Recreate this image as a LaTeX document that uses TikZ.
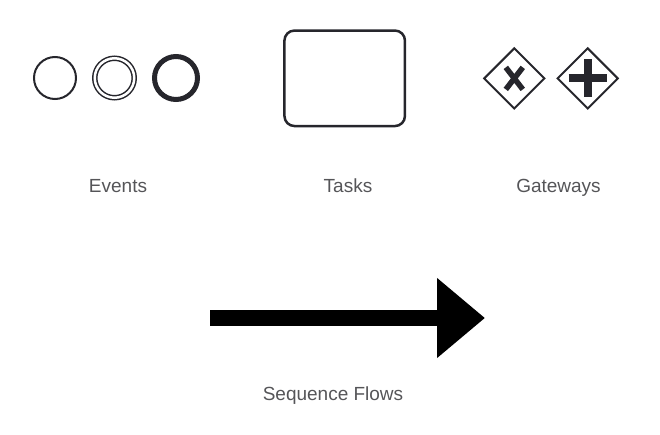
\documentclass[tikz,border=0pt]{standalone}
\usepackage{fontspec}
\setmainfont{Liberation Sans}
\usetikzlibrary{shapes.geometric, arrows.meta}

\definecolor{shapeink}{RGB}{38,38,44}
\definecolor{labelink}{RGB}{85,85,88}

\begin{document}
\begin{tikzpicture}[
	x = 1pt, y = -1pt,
	evshape/.style = {circle, draw = shapeink, inner sep = 0pt},
	gwshape/.style = {diamond, draw = shapeink, line width = 2pt, minimum width = 61pt, minimum height = 61pt, inner sep = 0pt},
	gwmark/.style = {draw = shapeink, line width = 5pt},
	lbl/.style = {anchor = base, text = labelink, font = \fontsize{19}{22}\selectfont, inner sep = 0pt}
]

\useasboundingbox (0, 0) rectangle (660, 434);

\node[evshape, line width = 2pt, minimum size = 42pt] (evstart) at (55, 78) {};
\node[evshape, line width = 1.5pt, double = white, double distance = 2.5pt, minimum size = 39.5pt] (evinter) at (114.5, 78) {};
\node[evshape, line width = 5pt, minimum size = 43pt] (evend) at (176, 78) {};

\node[draw = shapeink, line width = 2.5pt, rounded corners = 10pt, minimum width = 120.5pt, minimum height = 95.5pt, inner sep = 0pt] (task) at (344.7, 78.3) {};

\node[gwshape] (gwexcl) at (514.3, 78.4) {};
\node[gwshape] (gwpar) at (587.7, 78.4) {};

\draw[gwmark, line width = 5.5pt, shift = {(gwexcl.center)}]
	(-8.5, -11) -- (8.5, 11)
	(8.5, -11) -- (-8.5, 11);
\draw[gwmark, line width = 8pt, shift = {(gwpar.center)}]
	(-19, 0) -- (19, 0)
	(0, -19) -- (0, 19);

\node[lbl] (lblevents) at (118, 192) {Events};
\node[lbl] (lbltasks) at (348, 192) {Tasks};
\node[lbl] (lblgateways) at (558.5, 192) {Gateways};

\coordinate (flowstart) at (210, 318);
\coordinate (flowend) at (485, 318);
\draw[line width = 16pt, -{Triangle[length = 48pt 0 0, width = 77pt 0 0]}] (flowstart) -- (flowend);

\node[lbl] (lblflows) at (333, 400) {Sequence Flows};

\end{tikzpicture}
\end{document}
